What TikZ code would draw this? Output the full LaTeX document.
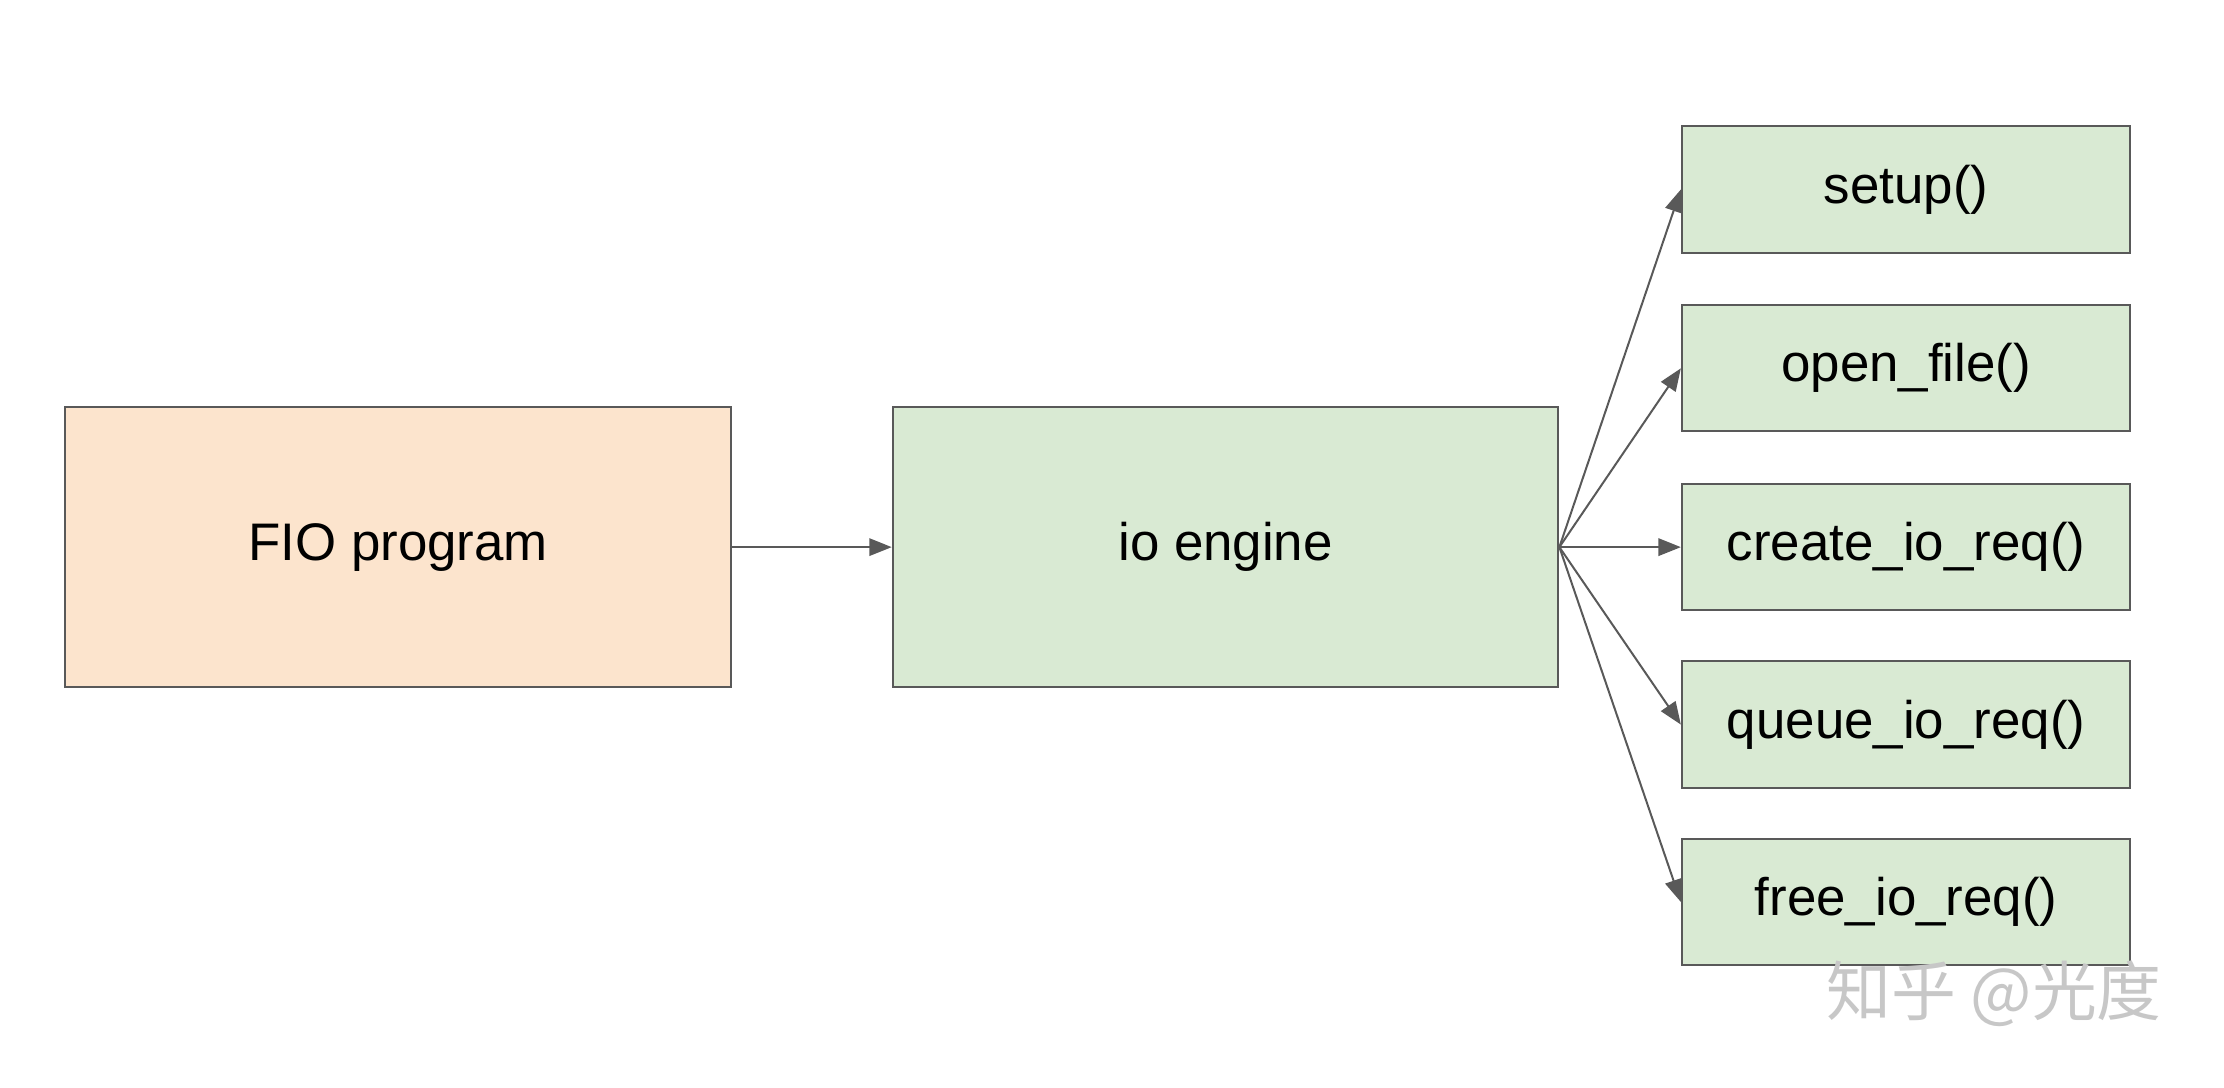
\documentclass[tikz,border=0pt]{standalone}
\usepackage{fontspec}
\setmainfont{Liberation Sans}
\newfontfamily\cjk{Noto Sans CJK SC}
\usetikzlibrary{arrows.meta}
\definecolor{peach}{HTML}{FCE4CD}
\definecolor{mint}{HTML}{D9EAD3}
\definecolor{edge}{HTML}{595959}
\begin{document}
\begin{tikzpicture}[x=0.02cm,y=-0.02cm,
  box/.style={draw=edge,line width=0.8pt,inner sep=0pt,font=\fontsize{21.2}{25}\selectfont},
  arr/.style={draw=edge,line width=0.8pt,-{Triangle[length=9pt,width=7pt]}}]
\useasboundingbox (0,0) rectangle (1567,766);
\node[box,fill=peach,minimum width=469*0.02cm,minimum height=197*0.02cm] (fio) at (280.5,385.5) {FIO program};
\node[box,fill=mint,minimum width=469*0.02cm,minimum height=197*0.02cm] (eng) at (863.5,385.5) {io engine};
\foreach \n/\y/\t in {a/133.5/setup(),b/259.5/open\_file(),c/385.5/create\_io\_req(),d/510.5/queue\_io\_req(),e/635.5/free\_io\_req()}{
  \node[box,fill=mint,minimum width=316*0.02cm,minimum height=89*0.02cm] (\n) at (1343,\y) {\t};
  \draw[arr] (eng.east) -- (\n.west);
}
\draw[arr] (fio) -- (eng);
\node[font=\cjk\fontsize{26}{30}\selectfont,text=black!22] (wm) at (1405,700) {知乎 @光度};
\end{tikzpicture}
\end{document}
